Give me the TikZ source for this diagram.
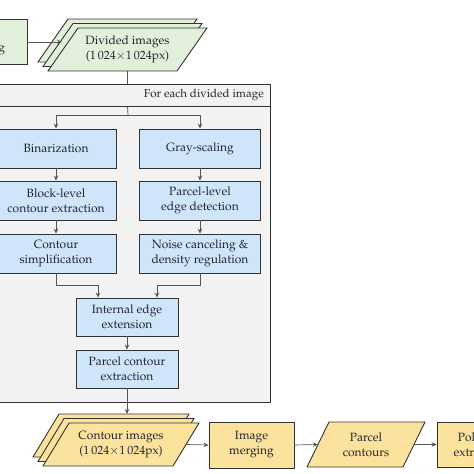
\documentclass[tikz,border=0pt]{standalone}
\usepackage[T1]{fontenc}
\usepackage{mathpazo}
\usetikzlibrary{arrows.meta,backgrounds}
\definecolor{bluef}{HTML}{CFE6FA}
\definecolor{greenf}{HTML}{E2EFDA}
\definecolor{yellowf}{HTML}{FBE29D}
\definecolor{grayf}{HTML}{F2F2F2}
\definecolor{txt}{HTML}{24242F}
\definecolor{edgec}{HTML}{333333}
\definecolor{conn}{HTML}{555555}
\newcommand{\paral}[6]{%
  \filldraw[#6] (#1-#3+#5,#2-#4) -- (#1+#3+#5,#2-#4) -- (#1+#3-#5,#2+#4) -- (#1-#3-#5,#2+#4) -- cycle;}
\tikzset{
  box/.style={draw=edgec, line width=0.9pt, fill=bluef, text=txt, align=center,
    font=\fontsize{12}{15}\selectfont, inner sep=0pt},
  ptext/.style={text=txt, align=center, font=\fontsize{12}{15}\selectfont, inner sep=0pt},
  pshape/.style={draw=edgec, line width=0.9pt},
  conline/.style={draw=conn, line width=0.7pt},
  arr/.style={conline, -{Stealth[length=5pt,width=4.5pt]}},
}
\begin{document}
\begin{tikzpicture}[x=1pt,y=-1pt]
\useasboundingbox (0,0) rectangle (474,474);
\clip (0,0) rectangle (474,474);
% container
\node[draw=edgec, line width=0.9pt, fill=grayf, minimum width=280, minimum height=318, inner sep=0pt] (cont) at (130,243) {};
\node[draw=edgec, line width=0.9pt, fill=grayf, minimum width=280, minimum height=22, inner sep=0pt] (hdr) at (130,95) {};
\node[anchor=east, text=txt, font=\fontsize{11.5}{14}\selectfont, inner sep=0pt] (hdrlabel) at (264,95) {For each divided image};
% first box
\node[box, fill=greenf, minimum width=87, minimum height=45] (split) at (-16.5,41.5) {};
\node[ptext] (splitlabel) at (-17,41.5) {Image\\splitting};
% divided images stack
\node[ptext, minimum width=129, minimum height=43] (div) at (127.5,49.5) {Divided images\\(1\,024$\times$1\,024px)};
\begin{scope}[on background layer]
  \paral{117.5}{40.5}{64.5}{21.5}{15}{pshape, fill=greenf}
  \paral{122.5}{45}{64.5}{21.5}{15}{pshape, fill=greenf}
  \paral{127.5}{49.5}{64.5}{21.5}{15}{pshape, fill=greenf}
\end{scope}
\coordinate (divin) at (62,42);
% left column
\node[box, minimum width=121, minimum height=39] (bin) at (56,148.5) {Binarization};
\node[box, minimum width=121, minimum height=39] (blk) at (56,200.5) {Block-level\\contour extraction};
\node[box, minimum width=121, minimum height=39] (simp) at (56,253.5) {Contour\\simplification};
% right column
\node[box, minimum width=121, minimum height=39] (gray) at (200,148.5) {Gray-scaling};
\node[box, minimum width=121, minimum height=39] (pedge) at (200,200.5) {Parcel-level\\edge detection};
\node[box, minimum width=121, minimum height=39] (noise) at (200,253.5) {Noise canceling \&\\density regulation};
% merge column
\node[box, minimum width=102, minimum height=38] (iee) at (127,317) {Internal edge\\extension};
\node[box, minimum width=102, minimum height=38] (pce) at (127,369) {Parcel contour\\extraction};
% contour images stack
\node[ptext, minimum width=130, minimum height=43] (cimg) at (121,444.5) {Contour images\\(1\,024$\times$1\,024px)};
\begin{scope}[on background layer]
  \paral{111}{435.5}{65}{21.5}{13}{pshape, fill=yellowf}
  \paral{116}{440}{65}{21.5}{13}{pshape, fill=yellowf}
  \paral{121}{444.5}{65}{21.5}{13}{pshape, fill=yellowf}
\end{scope}
\coordinate (ctop) at (127,414);
\coordinate (cright) at (186,444.5);
% bottom row
\node[box, fill=yellowf, minimum width=85, minimum height=46] (merge) at (251.5,445) {Image\\merging};
\node[ptext, minimum width=96, minimum height=45] (pcont) at (366,444.5) {Parcel\\contours};
\begin{scope}[on background layer]
  \paral{366}{444.5}{48}{22.5}{11}{pshape, fill=yellowf}
\end{scope}
\coordinate (pcL) at (318,444.5);
\coordinate (pcR) at (414,444.5);
\node[box, fill=yellowf, minimum width=86, minimum height=45] (poly) at (480,444.5) {Polygon\\extraction};
% connectors
\draw[arr] (split.east |- divin) -- (divin);
\draw[conline] (div.south) -- (div.south |- cont.north);
\coordinate (fork) at (128,115);
\draw[conline] (div.south |- hdr.south) -- (fork);
\draw[arr] (fork) -| (bin.north);
\draw[arr] (fork) -| (gray.north);
\draw[arr] (bin) -- (blk);
\draw[arr] (blk) -- (simp);
\draw[arr] (gray) -- (pedge);
\draw[arr] (pedge) -- (noise);
\coordinate (jL) at (98,285);
\coordinate (jR) at (157,285);
\draw[arr] (simp.south) |- (jL) -- (jL |- iee.north);
\draw[arr] (noise.south) |- (jR) -- (jR |- iee.north);
\draw[arr] (iee) -- (pce);
\draw[arr] (pce.south) -- (ctop);
\draw[arr] (cright) -- (merge.west);
\draw[arr] (merge.east) -- (pcL);
\draw[arr] (pcR) -- (poly.west);
\end{tikzpicture}
\end{document}
